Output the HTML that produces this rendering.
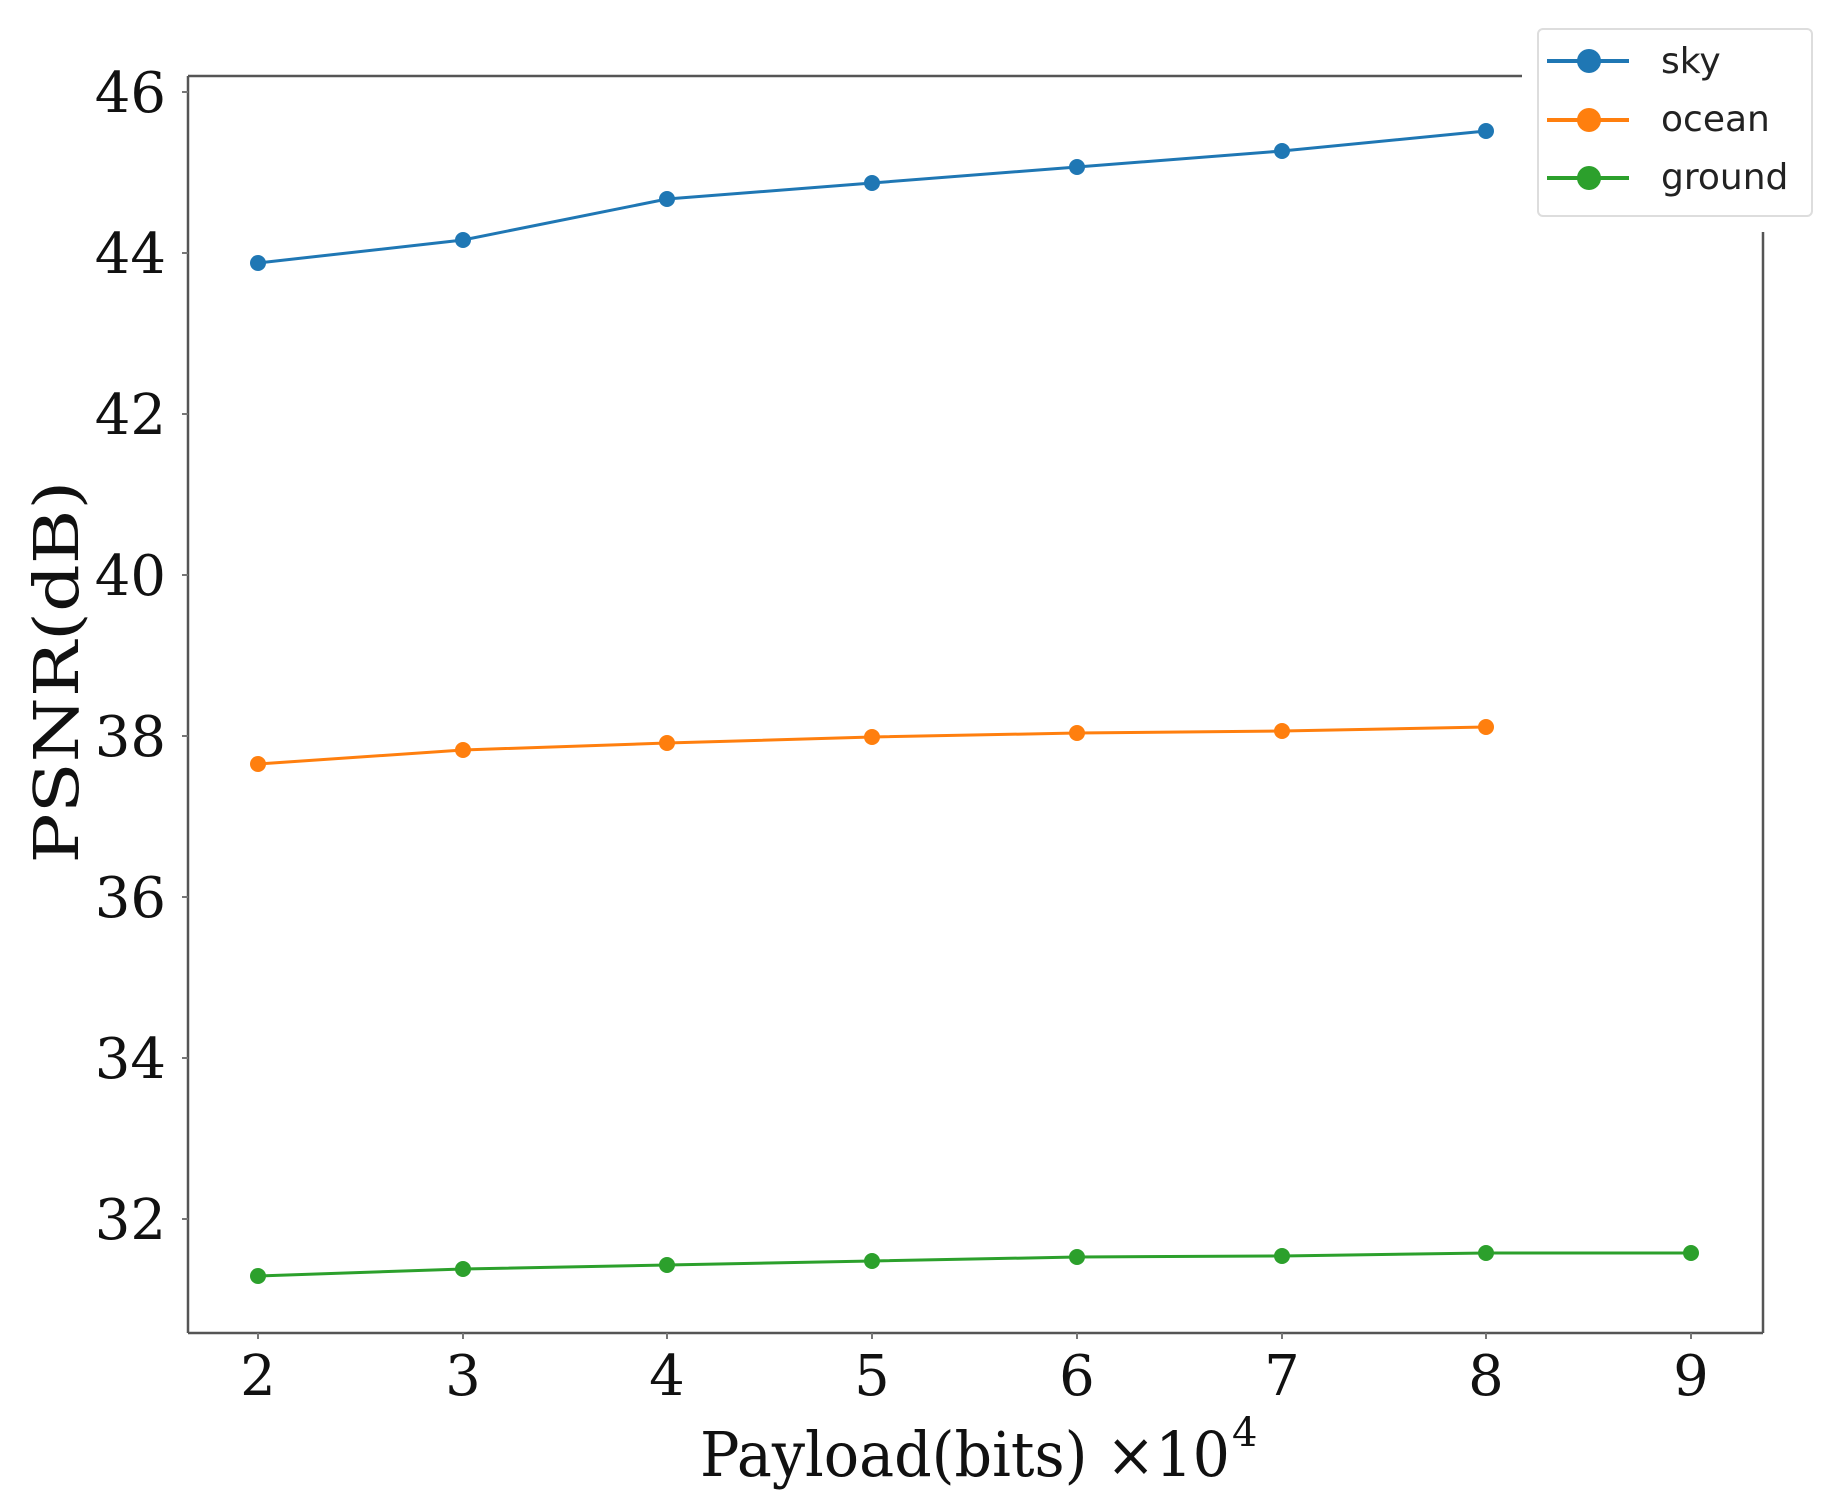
<!DOCTYPE html>
<html><head><meta charset="utf-8"><style>body{margin:0;background:#fff}</style></head><body>
<svg width="1840" height="1507" viewBox="0 0 1840 1507" xmlns="http://www.w3.org/2000/svg">
<rect width="1840" height="1507" fill="#fff"/>
<g stroke="#555" stroke-width="2.5" fill="none">
<line x1="188" y1="76" x2="1522" y2="76"/>
<line x1="188" y1="76" x2="188" y2="1333"/>
<line x1="188" y1="1333" x2="1763" y2="1333"/>
<line x1="1763" y1="232" x2="1763" y2="1333"/>
</g>
<g stroke="#777" stroke-width="2">
<line x1="182" y1="92" x2="188" y2="92"/><line x1="182" y1="253" x2="188" y2="253"/><line x1="182" y1="414" x2="188" y2="414"/><line x1="182" y1="575" x2="188" y2="575"/><line x1="182" y1="736" x2="188" y2="736"/><line x1="182" y1="897" x2="188" y2="897"/><line x1="182" y1="1058" x2="188" y2="1058"/><line x1="182" y1="1219" x2="188" y2="1219"/>
<line x1="258" y1="1333" x2="258" y2="1339"/><line x1="463" y1="1333" x2="463" y2="1339"/><line x1="667" y1="1333" x2="667" y2="1339"/><line x1="872" y1="1333" x2="872" y2="1339"/><line x1="1077" y1="1333" x2="1077" y2="1339"/><line x1="1282" y1="1333" x2="1282" y2="1339"/><line x1="1486" y1="1333" x2="1486" y2="1339"/><line x1="1691" y1="1333" x2="1691" y2="1339"/>
</g>
<g font-family="DejaVu Serif, serif" font-size="56" fill="#111" text-anchor="end">
<text x="166" y="112">46</text><text x="166" y="273">44</text><text x="166" y="434">42</text><text x="166" y="595">40</text><text x="166" y="756">38</text><text x="166" y="917">36</text><text x="166" y="1078">34</text><text x="166" y="1239">32</text>
</g>
<g font-family="DejaVu Serif, serif" font-size="56" fill="#111" text-anchor="middle">
<text x="258" y="1395">2</text><text x="463" y="1395">3</text><text x="667" y="1395">4</text><text x="872" y="1395">5</text><text x="1077" y="1395">6</text><text x="1282" y="1395">7</text><text x="1486" y="1395">8</text><text x="1691" y="1395">9</text>
</g>
<g font-family="DejaVu Serif, serif" font-size="62" fill="#111">
<text x="700" y="1476" textLength="530" lengthAdjust="spacingAndGlyphs">Payload(bits) ×10</text>
<text x="1232" y="1446" font-size="40">4</text>
<text transform="translate(78,672) rotate(-90)" text-anchor="middle" textLength="383" lengthAdjust="spacingAndGlyphs">PSNR(dB)</text>
</g>
<g fill="none" stroke-width="3">
<polyline stroke="#1f77b4" points="258,263 463,240 667,199 872,183 1077,167 1282,151 1486,131"/>
<polyline stroke="#ff7f0e" points="258,764 463,750 667,743 872,737 1077,733 1282,731 1486,727"/>
<polyline stroke="#2ca02c" points="258,1276 463,1269 667,1265 872,1261 1077,1257 1282,1256 1486,1253 1691,1253"/>
</g>
<g fill="#1f77b4"><circle cx="258" cy="263" r="8"/><circle cx="463" cy="240" r="8"/><circle cx="667" cy="199" r="8"/><circle cx="872" cy="183" r="8"/><circle cx="1077" cy="167" r="8"/><circle cx="1282" cy="151" r="8"/><circle cx="1486" cy="131" r="8"/></g>
<g fill="#ff7f0e"><circle cx="258" cy="764" r="8"/><circle cx="463" cy="750" r="8"/><circle cx="667" cy="743" r="8"/><circle cx="872" cy="737" r="8"/><circle cx="1077" cy="733" r="8"/><circle cx="1282" cy="731" r="8"/><circle cx="1486" cy="727" r="8"/></g>
<g fill="#2ca02c"><circle cx="258" cy="1276" r="8"/><circle cx="463" cy="1269" r="8"/><circle cx="667" cy="1265" r="8"/><circle cx="872" cy="1261" r="8"/><circle cx="1077" cy="1257" r="8"/><circle cx="1282" cy="1256" r="8"/><circle cx="1486" cy="1253" r="8"/><circle cx="1691" cy="1253" r="8"/></g>
<rect x="1538" y="29" width="274" height="187" rx="5" fill="#fff" stroke="#ddd" stroke-width="2"/>
<g stroke-width="4">
<line x1="1547" y1="61" x2="1629" y2="61" stroke="#1f77b4"/>
<line x1="1547" y1="120" x2="1629" y2="120" stroke="#ff7f0e"/>
<line x1="1547" y1="178" x2="1629" y2="178" stroke="#2ca02c"/>
</g>
<circle cx="1589" cy="61" r="12" fill="#1f77b4"/>
<circle cx="1589" cy="120" r="12" fill="#ff7f0e"/>
<circle cx="1589" cy="178" r="12" fill="#2ca02c"/>
<g font-family="DejaVu Sans, sans-serif" font-size="36" fill="#222">
<text x="1661" y="73">sky</text><text x="1661" y="131">ocean</text><text x="1661" y="189">ground</text>
</g>
</svg>
</body></html>
